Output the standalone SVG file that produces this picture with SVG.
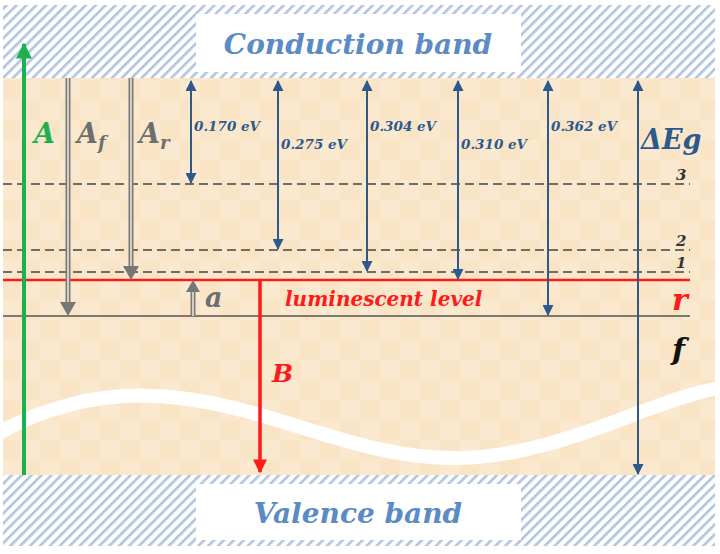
<svg xmlns="http://www.w3.org/2000/svg" width="720" height="554" viewBox="0 0 720 554">
<defs>
<pattern id="hatch" width="7" height="7" patternUnits="userSpaceOnUse" patternTransform="rotate(45)">
<rect width="7" height="7" fill="#fff"/><rect width="2.6" height="7" fill="#b0c4de"/>
</pattern>
<pattern id="chk" width="40" height="40" patternUnits="userSpaceOnUse">
<rect width="40" height="40" fill="#fbe9cf"/><rect width="20" height="20" fill="#f9e4c6"/><rect x="20" y="20" width="20" height="20" fill="#f9e4c6"/>
</pattern>
<marker id="hb" viewBox="0 0 10 10" refX="9" refY="5" markerWidth="7" markerHeight="5.5" orient="auto-start-reverse" markerUnits="strokeWidth"><path d="M0,0L10,5L0,10z" fill="#2d5a8e"/></marker>
<marker id="hg" viewBox="0 0 10 10" refX="9" refY="5" markerWidth="4.5" markerHeight="4" orient="auto"><path d="M0,0L10,5L0,10z" fill="#1db050"/></marker>
<marker id="hr" viewBox="0 0 10 10" refX="9" refY="5" markerWidth="4.5" markerHeight="4" orient="auto"><path d="M0,0L10,5L0,10z" fill="#ff1a1a"/></marker>
</defs>
<style>
text{font-family:"DejaVu Serif",serif;font-weight:700;font-style:italic}
.ev{fill:#2d5a8e;font-size:13.5px}
.band{fill:#5b8bc4;font-size:28px}
.blue{stroke:#2d5a8e;stroke-width:2;fill:none;marker-start:url(#hb);marker-end:url(#hb)}
.dash{stroke:#444;stroke-width:1.3;stroke-dasharray:9 5}
.gray{stroke:#7a7a7a;stroke-width:5;fill:none}
.grayin{stroke:#f4ead8;stroke-width:1.5;fill:none}
</style>
<rect x="3" y="5" width="712" height="74" fill="url(#hatch)"/>
<rect x="3" y="475" width="712" height="71" fill="url(#hatch)"/>
<rect x="3" y="78" width="712" height="397" fill="url(#chk)"/>
<path d="M0,432 C60,400 120,390 180,398 C280,410 360,460 460,458 C560,456 650,400 720,388" stroke="#fff" stroke-width="14" fill="none"/>
<g id="conduction"><rect x="196" y="14" width="325" height="58" fill="#fff"/><text class="band" x="358" y="54" text-anchor="middle">Conduction band</text></g>
<g id="valence"><rect x="196" y="484" width="325" height="56" fill="#fff"/><text class="band" x="358" y="523" text-anchor="middle">Valence band</text></g>
<g id="levels">
<line class="dash" x1="3" y1="184" x2="690" y2="184"/>
<line class="dash" x1="3" y1="250" x2="690" y2="250"/>
<line class="dash" x1="3" y1="272" x2="690" y2="272"/>
<line x1="3" y1="280" x2="690" y2="280" stroke="#ff1a1a" stroke-width="2.5"/>
<line x1="3" y1="316" x2="690" y2="316" stroke="#555" stroke-width="1.3"/>
<text x="676" y="180" font-size="15" fill="#333">3</text>
<text x="676" y="246" font-size="15" fill="#333">2</text>
<text x="676" y="268" font-size="15" fill="#333">1</text>
<text x="672" y="310" font-size="30" fill="#ff1a1a">r</text>
<text x="672" y="360" font-size="30" fill="#111">f</text>
<text x="285" y="306" font-size="20" fill="#ff1a1a">luminescent level</text>
</g>
<g id="connectors">
<line x1="24" y1="475" x2="24" y2="44" stroke="#1db050" stroke-width="4" marker-end="url(#hg)"/>
<line class="gray" x1="68" y1="78" x2="68" y2="306"/><line class="grayin" x1="68" y1="78" x2="68" y2="306"/>
<path d="M60,302L68,316L76,302z" fill="#777"/>
<line class="gray" x1="131" y1="78" x2="131" y2="270"/><line class="grayin" x1="131" y1="78" x2="131" y2="270"/>
<path d="M123,266L131,280L139,266z" fill="#777"/>
<line class="gray" x1="193" y1="316" x2="193" y2="290"/><line class="grayin" x1="193" y1="316" x2="193" y2="290"/>
<path d="M186,292L193,280L200,292z" fill="#777"/>
<line x1="260" y1="280" x2="260" y2="472" stroke="#ff1a1a" stroke-width="3.5" marker-end="url(#hr)"/>
<line class="blue" x1="191" y1="81" x2="191" y2="183"/>
<line class="blue" x1="278" y1="81" x2="278" y2="249"/>
<line class="blue" x1="367" y1="81" x2="367" y2="271"/>
<line class="blue" x1="458" y1="81" x2="458" y2="279"/>
<line class="blue" x1="548" y1="81" x2="548" y2="315"/>
<line class="blue" x1="638" y1="81" x2="638" y2="474"/>
</g>
<g id="labels">
<text x="34" y="143" font-size="27" fill="#1db050">A</text>
<text x="77" y="143" font-size="27" fill="#6e6e6e">A<tspan font-size="18" dy="6">f</tspan></text>
<text x="139" y="143" font-size="27" fill="#6e6e6e">A<tspan font-size="18" dy="6">r</tspan></text>
<text x="205" y="307" font-size="27" fill="#6e6e6e">a</text>
<text x="272" y="382" font-size="25" fill="#ff1a1a">B</text>
<text class="ev" x="194" y="131">0.170 eV</text>
<text class="ev" x="281" y="149">0.275 eV</text>
<text class="ev" x="370" y="131">0.304 eV</text>
<text class="ev" x="461" y="149">0.310 eV</text>
<text class="ev" x="551" y="131">0.362 eV</text>
<text x="641" y="149" font-size="27" fill="#2d5a8e">ΔEg</text>
</g>
</svg>
